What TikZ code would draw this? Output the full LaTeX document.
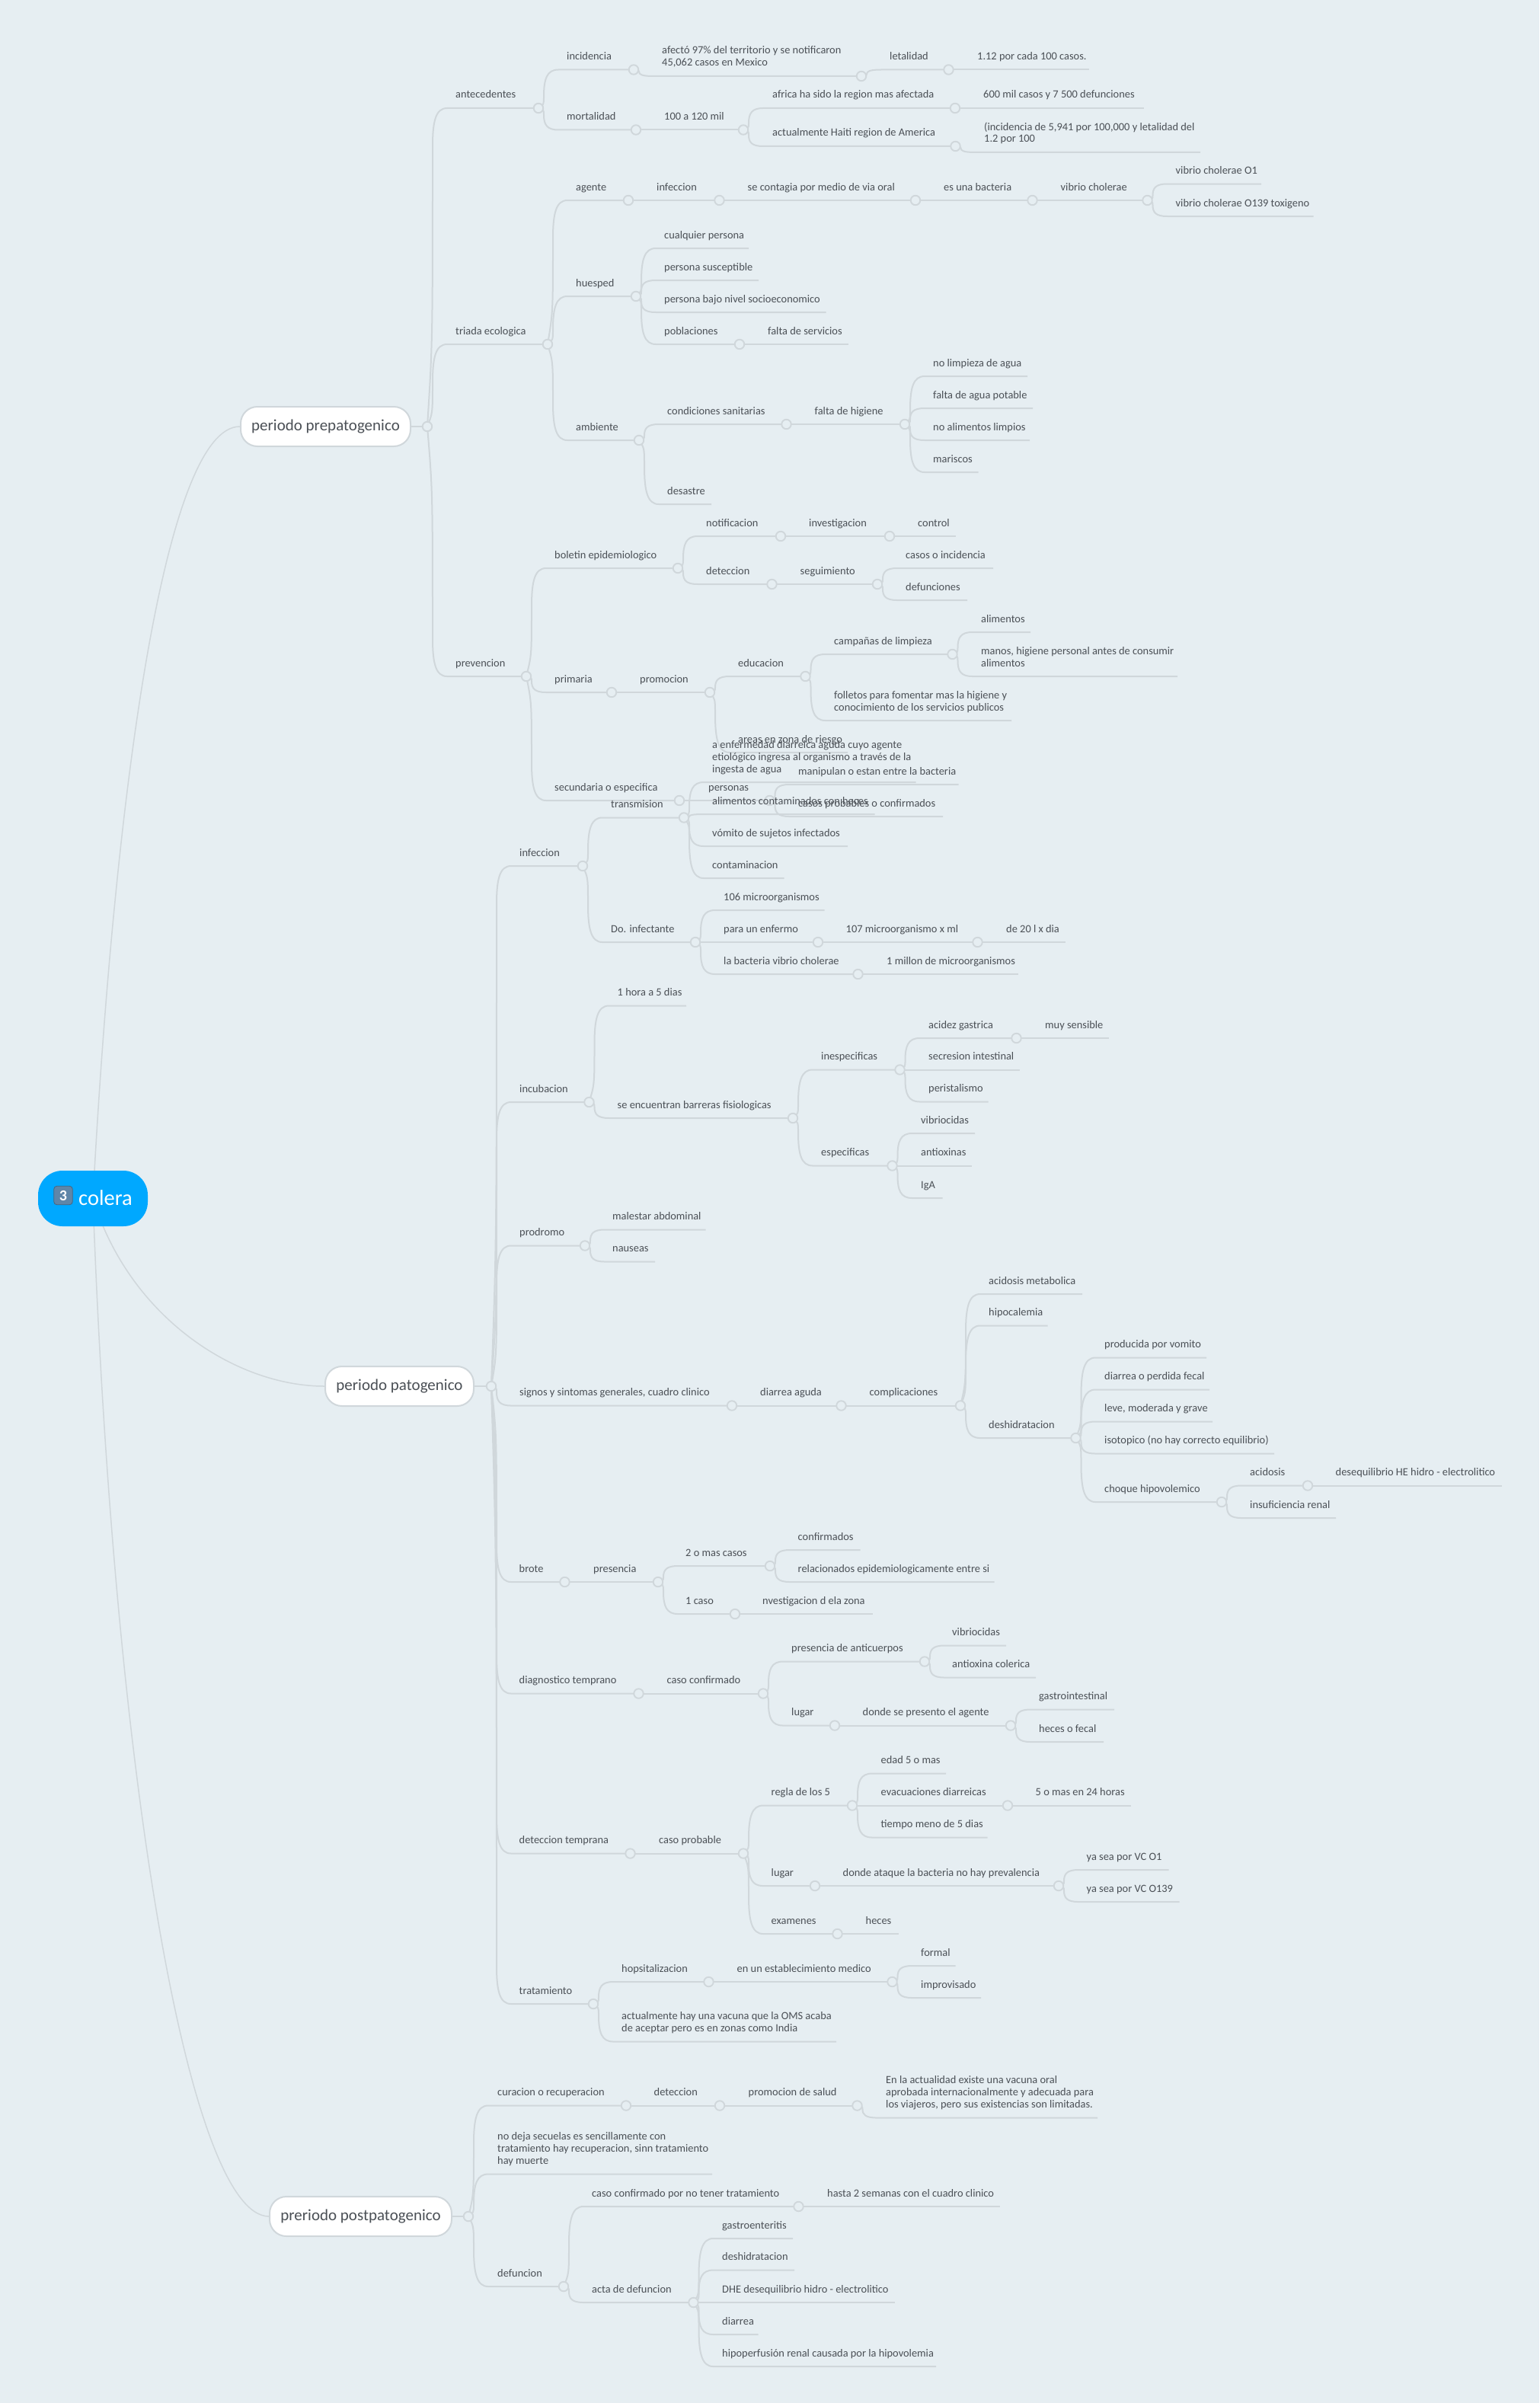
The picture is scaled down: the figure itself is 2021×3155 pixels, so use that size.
\documentclass[tikz,border=0pt]{standalone}
\usepackage{fontspec}
\setmainfont{Carlito}
\usetikzlibrary{calc, backgrounds}
\definecolor{pagebg}{HTML}{E6EEF2}
\definecolor{linkgrey}{HTML}{D0D7DB}
\definecolor{inkgrey}{HTML}{4B5056}
\definecolor{rootblue}{HTML}{00A8FF}
\definecolor{capblue}{HTML}{5F86A8}
\tikzset{
  lbl/.style={anchor=south west, inner sep=0pt, yshift=8pt, align=left, text=inkgrey,
    font=\fontsize{14.4}{16}\selectfont, execute at end node=\strut},
  knob/.style={circle, draw=linkgrey, fill=pagebg, line width=1.9pt, minimum size=12.5pt, inner sep=0pt},
  link/.style={draw=linkgrey, line width=2pt},
  bough/.style={draw=linkgrey, line width=1.5pt},
  twig/.style={link, to path={let \p1=(\tikztostart), \p2=(\tikztotarget),
    \n1={sign(\y2-\y1)*min(0.7*abs(\y2-\y1),50)} in
    (\p1) .. controls ({\x1+7pt},{\y1+0.3*(\y2-(\n1)-\y1)}) .. ({\x1+7pt},{\y2-(\n1)})
    .. controls ({\x1+7pt},{\y2-0.35*(\n1)}) and ({\x1+11pt},\y2) .. ({\x1+26pt},\y2) -- (\p2)}},
  period/.style={draw=linkgrey, fill=white, line width=2pt, rounded corners=22pt, inner sep=0pt,
    minimum height=52pt, text=inkgrey, font=\fontsize{21}{26}\selectfont},
  rootbox/.style={fill=rootblue, rounded corners=32pt, minimum width=144pt, minimum height=73pt, inner sep=0pt},
  roottext/.style={text=white, inner sep=0pt, font=\fontsize{28.5}{34}\selectfont},
  keycap/.style={fill=capblue, draw=capblue!75!black, line width=0.8pt, rounded corners=4pt, minimum size=24.5pt, inner sep=0pt,
    text=white, font=\bfseries\fontsize{20}{22}\selectfont},
}
\begin{document}
\begin{tikzpicture}[x=1pt, y=-1pt]
\useasboundingbox (0,0) rectangle (2021,3155);

% root and the three periods
\node[rootbox] (root) at (122,1573.5) {};
\node[keycap] (cap) at (83,1569.5) {3};
\node[roottext, anchor=west] (rootname) at (103,1573) {colera};
\node[period, minimum width=223pt] (prep) at (427.5,560) {periodo prepatogenico};
\node[knob] (prepK) at (561,560) {};
\node[period, minimum width=195pt] (pato) at (524.5,1820) {periodo patogenico};
\node[knob] (patoK) at (645,1820) {};
\node[period, minimum width=239pt] (post) at (473.5,2910) {preriodo postpatogenico};
\node[knob] (postK) at (615,2910) {};

% antecedentes
\node[lbl] (antec) at (598,142) {antecedentes};
\node[knob] (antecK) at (707,142) {};
\node[lbl] (incid) at (744,91.5) {incidencia};
\node[knob] (incidK) at (832,91.5) {};
\node[lbl] (afecto) at (869,100) {afectó 97\% del territorio y se notificaron\\45,062 casos en Mexico};
\node[knob] (afectoK) at (1131,100) {};
\node[lbl] (letal) at (1168,91.5) {letalidad};
\node[knob] (letalK) at (1245.5,91.5) {};
\node[lbl] (porcada) at (1283,91.5) {1.12 por cada 100 casos.};
\coordinate (porcadaE) at (1430,91.5);
\node[lbl] (mortal) at (744,170.5) {mortalidad};
\node[knob] (mortalK) at (835,170.5) {};
\node[lbl] (cienmil) at (872,170.5) {100 a 120 mil};
\node[knob] (cienmilK) at (976,170.5) {};
\node[lbl] (africa) at (1014,142) {africa ha sido la region mas afectada};
\node[knob] (africaK) at (1254,142) {};
\node[lbl] (seiscien) at (1291,142) {600 mil casos y 7 500 defunciones};
\coordinate (seiscienE) at (1502,142);
\node[lbl] (haiti) at (1014,192) {actualmente Haiti region de America};
\node[knob] (haitiK) at (1254.5,192) {};
\node[lbl] (incidhaiti) at (1292,200) {(incidencia de 5,941 por 100,000 y letalidad del\\1.2 por 100};
\coordinate (incidhaitiE) at (1576,200);

% triada ecologica
\node[lbl] (triada) at (598,452) {triada ecologica};
\node[knob] (triadaK) at (719,452) {};
\node[lbl] (agente) at (756,263) {agente};
\node[knob] (agenteK) at (825,263) {};
\node[lbl] (infec) at (862,263) {infeccion};
\node[knob] (infecK) at (944.5,263) {};
\node[lbl] (contagia) at (981.5,263) {se contagia por medio de via oral};
\node[knob] (contagiaK) at (1202,263) {};
\node[lbl] (bacteria) at (1239,263) {es una bacteria};
\node[knob] (bacteriaK) at (1355.5,263) {};
\node[lbl] (vibrio) at (1392.5,263) {vibrio cholerae};
\node[knob] (vibrioK) at (1506.5,263) {};
\node[lbl] (vibrioA) at (1543.5,241.5) {vibrio cholerae O1};
\coordinate (vibrioAE) at (1656,241.5);
\node[lbl] (vibrioB) at (1543.5,284) {vibrio cholerae O139 toxigeno};
\coordinate (vibrioBE) at (1724.5,284);
\node[lbl] (huesped) at (756,389) {huesped};
\node[knob] (huespedK) at (835,389) {};
\node[lbl] (cualq) at (872,326) {cualquier persona};
\coordinate (cualqE) at (983,326);
\node[lbl] (suscep) at (872,368) {persona susceptible};
\coordinate (suscepE) at (996,368);
\node[lbl] (bajonivel) at (872,410) {persona bajo nivel socioeconomico};
\coordinate (bajonivelE) at (1084.5,410);
\node[lbl] (poblac) at (872,452) {poblaciones};
\node[knob] (poblacK) at (971,452) {};
\node[lbl] (faltaserv) at (1008,452) {falta de servicios};
\coordinate (faltaservE) at (1114,452);
\node[lbl] (ambiente) at (756,578) {ambiente};
\node[knob] (ambienteK) at (839,578) {};
\node[lbl] (condic) at (876,557) {condiciones sanitarias};
\node[knob] (condicK) at (1032.5,557) {};
\node[lbl] (higiene) at (1069.5,557) {falta de higiene};
\node[knob] (higieneK) at (1188,557) {};
\node[lbl] (limpieza) at (1225,494) {no limpieza de agua};
\coordinate (limpiezaE) at (1349,494);
\node[lbl] (potable) at (1225,536) {falta de agua potable};
\coordinate (potableE) at (1356,536);
\node[lbl] (limpios) at (1225,578) {no alimentos limpios};
\coordinate (limpiosE) at (1352,578);
\node[lbl] (mariscos) at (1225,620) {mariscos};
\coordinate (mariscosE) at (1284.5,620);
\node[lbl] (desastre) at (876,662) {desastre};
\coordinate (desastreE) at (934,662);

% prevencion
\node[lbl] (prev) at (598,888) {prevencion};
\node[knob] (prevK) at (691,888) {};
\node[lbl] (boletin) at (728,746) {boletin epidemiologico};
\node[knob] (boletinK) at (890,746) {};
\node[lbl] (notif) at (927,704) {notificacion};
\node[knob] (notifK) at (1025,704) {};
\node[lbl] (investig) at (1062,704) {investigacion};
\node[knob] (investigK) at (1168,704) {};
\node[lbl] (control) at (1205,704) {control};
\coordinate (controlE) at (1255,704);
\node[lbl] (detec) at (927,767) {deteccion};
\node[knob] (detecK) at (1013.5,767) {};
\node[lbl] (seguim) at (1050.5,767) {seguimiento};
\node[knob] (seguimK) at (1152,767) {};
\node[lbl] (casosinc) at (1189,746) {casos o incidencia};
\coordinate (casosincE) at (1304,746);
\node[lbl] (defunc) at (1189,788) {defunciones};
\coordinate (defuncE) at (1270,788);
\node[lbl] (primaria) at (728,909) {primaria};
\node[knob] (primariaK) at (803,909) {};
\node[lbl] (promoc) at (840,909) {promocion};
\node[knob] (promocK) at (932,909) {};
\node[lbl] (educ) at (969,888) {educacion};
\node[knob] (educK) at (1057.5,888) {};
\node[lbl] (campanas) at (1095,859) {campañas de limpieza};
\node[knob] (campanasK) at (1250.5,859) {};
\node[lbl] (aliment) at (1288,830) {alimentos};
\coordinate (alimentE) at (1353,830);
\node[lbl] (manos) at (1288,888) {manos, higiene personal antes de consumir\\alimentos};
\coordinate (manosE) at (1546,888);
\node[lbl] (folletos) at (1095,946) {folletos para fomentar mas la higiene y\\conocimiento de los servicios publicos};
\coordinate (folletosE) at (1328,946);
\node[lbl] (areas) at (969,988) {areas en zona de riesgo};
\coordinate (areasE) at (1113,988);
\node[lbl] (secund) at (728,1051) {secundaria o especifica};
\node[knob] (secundK) at (892,1051) {};
\node[lbl] (personas) at (930,1051) {personas};
\node[knob] (personasK) at (1010.5,1051) {};
\node[lbl] (manipulan) at (1048,1030) {manipulan o estan entre la bacteria};
\coordinate (manipulanE) at (1258.5,1030);
\node[lbl] (probables) at (1048,1072) {casos probables o confirmados};
\coordinate (probablesE) at (1238,1072);

% infeccion
\node[lbl] (infeccion) at (682,1137) {infeccion};
\node[knob] (infeccionK) at (765,1137) {};
\node[lbl] (transm) at (802,1073.5) {transmision};
\node[knob] (transmK) at (898,1073.5) {};
\node[lbl] (enfermedad) at (935,1027) {a enfermedad diarreica aguda cuyo agente\\etiológico ingresa al organismo a través de la\\ingesta de agua};
\coordinate (enfermedadE) at (1202.5,1027);
\node[lbl] (heces) at (935,1069) {alimentos contaminados con heces};
\coordinate (hecesE) at (1148.5,1069);
\node[lbl] (vomito) at (935,1111) {vómito de sujetos infectados};
\coordinate (vomitoE) at (1113,1111);
\node[lbl] (contam) at (935,1153) {contaminacion};
\coordinate (contamE) at (1029.5,1153);
\node[lbl] (dosis) at (802,1237) {Do. infectante};
\node[knob] (dosisK) at (913,1237) {};
\node[lbl] (micro) at (950,1195) {106 microorganismos};
\coordinate (microE) at (1082.5,1195);
\node[lbl] (paraun) at (950,1237) {para un enfermo};
\node[knob] (paraunK) at (1074,1237) {};
\node[lbl] (microml) at (1110.5,1237) {107 microorganismo x ml};
\node[knob] (micromlK) at (1283.5,1237) {};
\node[lbl] (veinte) at (1321,1237) {de 20 l x dia};
\coordinate (veinteE) at (1398.5,1237);
\node[lbl] (labact) at (950,1279) {la bacteria vibrio cholerae};
\node[knob] (labactK) at (1126.5,1279) {};
\node[lbl] (millon) at (1164,1279) {1 millon de microorganismos};
\coordinate (millonE) at (1336.5,1279);

% incubacion
\node[lbl] (incub) at (682,1447) {incubacion};
\node[knob] (incubK) at (773.5,1447) {};
\node[lbl] (unahora) at (810.5,1320.5) {1 hora a 5 dias};
\coordinate (unahoraE) at (901,1320.5);
\node[lbl] (barreras) at (810.5,1468) {se encuentran barreras fisiologicas};
\node[knob] (barrerasK) at (1041,1468) {};
\node[lbl] (inesp) at (1078,1404.5) {inespecificas};
\node[knob] (inespK) at (1181.5,1404.5) {};
\node[lbl] (acidez) at (1219,1363) {acidez gastrica};
\node[knob] (acidezK) at (1334.5,1363) {};
\node[lbl] (sensible) at (1372,1363) {muy sensible};
\coordinate (sensibleE) at (1456,1363);
\node[lbl] (secres) at (1219,1404.5) {secresion intestinal};
\coordinate (secresE) at (1339,1404.5);
\node[lbl] (perist) at (1219,1446.5) {peristalismo};
\coordinate (peristE) at (1297.5,1446.5);
\node[lbl] (espec) at (1078,1530.5) {especificas};
\node[knob] (especK) at (1171.5,1530.5) {};
\node[lbl] (vibrioc) at (1209,1488) {vibriocidas};
\coordinate (vibriocE) at (1280,1488);
\node[lbl] (antiox) at (1209,1530.5) {antioxinas};
\coordinate (antioxE) at (1276,1530.5);
\node[lbl] (iga) at (1209,1573) {IgA};
\coordinate (igaE) at (1237.5,1573);

% prodromo
\node[lbl] (prodr) at (682,1635.5) {prodromo};
\node[knob] (prodrK) at (768,1635.5) {};
\node[lbl] (malestar) at (804,1614.5) {malestar abdominal};
\coordinate (malestarE) at (926.5,1614.5);
\node[lbl] (nauseas) at (804,1656.5) {nauseas};
\coordinate (nauseasE) at (860,1656.5);

% signos y sintomas
\node[lbl] (signos) at (682,1845.5) {signos y sintomas generales, cuadro clinico};
\node[knob] (signosK) at (961,1845.5) {};
\node[lbl] (diarrea) at (998,1845.5) {diarrea aguda};
\node[knob] (diarreaK) at (1104.5,1845.5) {};
\node[lbl] (complic) at (1141.5,1845.5) {complicaciones};
\node[knob] (complicK) at (1261,1845.5) {};
\node[lbl] (acidmet) at (1298,1699) {acidosis metabolica};
\coordinate (acidmetE) at (1421,1699);
\node[lbl] (hipocal) at (1298,1740.5) {hipocalemia};
\coordinate (hipocalE) at (1375.5,1740.5);
\node[lbl] (deshid) at (1298,1888) {deshidratacion};
\node[knob] (deshidK) at (1412.5,1888) {};
\node[lbl] (producida) at (1450,1782.5) {producida por vomito};
\coordinate (producidaE) at (1584,1782.5);
\node[lbl] (perdida) at (1450,1824.5) {diarrea o perdida fecal};
\coordinate (perdidaE) at (1588,1824.5);
\node[lbl] (leve) at (1450,1866.5) {leve, moderada y grave};
\coordinate (leveE) at (1592,1866.5);
\node[lbl] (isotop) at (1450,1908.5) {isotopico (no hay correcto equilibrio)};
\coordinate (isotopE) at (1673,1908.5);
\node[lbl] (choque) at (1450,1972) {choque hipovolemico};
\node[knob] (choqueK) at (1604,1972) {};
\node[lbl] (acidosis) at (1641,1950.5) {acidosis};
\node[knob] (acidosisK) at (1717,1950.5) {};
\node[lbl] (deseq) at (1753.5,1950.5) {desequilibrio HE hidro - electrolitico};
\coordinate (deseqE) at (1971.5,1950.5);
\node[lbl] (insuf) at (1641,1993) {insuficiencia renal};
\coordinate (insufE) at (1754,1993);

% brote
\node[lbl] (brote) at (681.5,2077) {brote};
\node[knob] (broteK) at (741.5,2077) {};
\node[lbl] (presenc) at (779,2077) {presencia};
\node[knob] (presencK) at (864,2077) {};
\node[lbl] (dosomas) at (900,2056) {2 o mas casos};
\node[knob] (dosomasK) at (1011,2056) {};
\node[lbl] (confirm) at (1047.5,2035) {confirmados};
\coordinate (confirmE) at (1129.5,2035);
\node[lbl] (relac) at (1047.5,2077) {relacionados epidemiologicamente entre si};
\coordinate (relacE) at (1305.5,2077);
\node[lbl] (uncaso) at (900,2119) {1 caso};
\node[knob] (uncasoK) at (965,2119) {};
\node[lbl] (nvestig) at (1001,2119) {nvestigacion d ela zona};
\coordinate (nvestigE) at (1146,2119);

% diagnostico temprano
\node[lbl] (diagn) at (681.5,2223.5) {diagnostico temprano};
\node[knob] (diagnK) at (838.5,2223.5) {};
\node[lbl] (casoconf) at (875.5,2223.5) {caso confirmado};
\node[knob] (casoconfK) at (1002,2223.5) {};
\node[lbl] (anticuer) at (1039,2181.5) {presencia de anticuerpos};
\node[knob] (anticuerK) at (1214,2181.5) {};
\node[lbl] (vibriocB) at (1250,2160.5) {vibriocidas};
\coordinate (vibriocBE) at (1321,2160.5);
\node[lbl] (antitox) at (1250,2202.5) {antioxina colerica};
\coordinate (antitoxE) at (1360,2202.5);
\node[lbl] (lugarA) at (1039,2265.5) {lugar};
\node[knob] (lugarAK) at (1096,2265.5) {};
\node[lbl] (dondepres) at (1132.5,2265.5) {donde se presento el agente};
\node[knob] (dondepresK) at (1327,2265.5) {};
\node[lbl] (gastro) at (1364,2244.5) {gastrointestinal};
\coordinate (gastroE) at (1463,2244.5);
\node[lbl] (hecesfec) at (1364,2287) {heces o fecal};
\coordinate (hecesfecE) at (1449,2287);

% deteccion temprana
\node[lbl] (dettemp) at (681.5,2433.5) {deteccion temprana};
\node[knob] (dettempK) at (827.5,2433.5) {};
\node[lbl] (casoprob) at (865,2433.5) {caso probable};
\node[knob] (casoprobK) at (976,2433.5) {};
\node[lbl] (regla) at (1012.5,2370.5) {regla de los 5};
\node[knob] (reglaK) at (1119,2370.5) {};
\node[lbl] (edad) at (1156.5,2328.5) {edad 5 o mas};
\coordinate (edadE) at (1242,2328.5);
\node[lbl] (evac) at (1156.5,2370.5) {evacuaciones diarreicas};
\node[knob] (evacK) at (1323,2370.5) {};
\node[lbl] (cincomas) at (1359.5,2370.5) {5 o mas en 24 horas};
\coordinate (cincomasE) at (1484.5,2370.5);
\node[lbl] (tiempo) at (1156.5,2412.5) {tiempo meno de 5 dias};
\coordinate (tiempoE) at (1296.5,2412.5);
\node[lbl] (lugarB) at (1012.5,2476) {lugar};
\node[knob] (lugarBK) at (1070,2476) {};
\node[lbl] (dondeat) at (1106.5,2476) {donde ataque la bacteria no hay prevalencia};
\node[knob] (dondeatK) at (1390,2476) {};
\node[lbl] (vcuno) at (1426.5,2455) {ya sea por VC O1};
\coordinate (vcunoE) at (1534.5,2455);
\node[lbl] (vcdos) at (1426.5,2497) {ya sea por VC O139};
\coordinate (vcdosE) at (1548.5,2497);
\node[lbl] (examen) at (1012.5,2539) {examenes};
\node[knob] (examenK) at (1099.5,2539) {};
\node[lbl] (hecesB) at (1136.5,2539) {heces};
\coordinate (hecesBE) at (1179.5,2539);

% tratamiento
\node[lbl] (tratam) at (681.5,2631) {tratamiento};
\node[knob] (tratamK) at (779,2631) {};
\node[lbl] (hospit) at (816,2602) {hopsitalizacion};
\node[knob] (hospitK) at (930.5,2602) {};
\node[lbl] (establec) at (967.5,2602) {en un establecimiento medico};
\node[knob] (establecK) at (1171.5,2602) {};
\node[lbl] (formal) at (1209,2581) {formal};
\coordinate (formalE) at (1254.5,2581);
\node[lbl] (improv) at (1209,2623) {improvisado};
\coordinate (improvE) at (1288,2623);
\node[lbl] (vacuna) at (816,2680.5) {actualmente hay una vacuna que la OMS acaba\\de aceptar pero es en zonas como India};
\coordinate (vacunaE) at (1098,2680.5);

% preriodo postpatogenico
\node[lbl] (curacion) at (653,2764.5) {curacion o recuperacion};
\node[knob] (curacionK) at (822,2764.5) {};
\node[lbl] (detecB) at (858.5,2764.5) {deteccion};
\node[knob] (detecBK) at (945,2764.5) {};
\node[lbl] (promsal) at (982.5,2764.5) {promocion de salud};
\node[knob] (promsalK) at (1125.5,2764.5) {};
\node[lbl] (actual) at (1163,2780.5) {En la actualidad existe una vacuna oral\\aprobada internacionalmente y adecuada para\\los viajeros, pero sus existencias son limitadas.};
\coordinate (actualE) at (1441,2780.5);
\node[lbl] (secuelas) at (653,2854.5) {no deja secuelas es sencillamente con\\tratamiento hay recuperacion, sinn tratamiento\\hay muerte};
\coordinate (secuelasE) at (935,2854.5);
\node[lbl] (defuncion) at (653,3002) {defuncion};
\node[knob] (defuncionK) at (740,3002) {};
\node[lbl] (notener) at (777,2897) {caso confirmado por no tener tratamiento};
\node[knob] (notenerK) at (1048.5,2897) {};
\node[lbl] (semanas) at (1086,2897) {hasta 2 semanas con el cuadro clinico};
\coordinate (semanasE) at (1312.5,2897);
\node[lbl] (acta) at (777,3023) {acta de defuncion};
\node[knob] (actaK) at (910.5,3023) {};
\node[lbl] (gastroent) at (948,2939) {gastroenteritis};
\coordinate (gastroentE) at (1041,2939);
\node[lbl] (deshidB) at (948,2980.5) {deshidratacion};
\coordinate (deshidBE) at (1043,2980.5);
\node[lbl] (dhe) at (948,3023) {DHE desequilibrio hidro - electrolitico};
\coordinate (dheE) at (1174.5,3023);
\node[lbl] (diarreaB) at (948,3065) {diarrea};
\coordinate (diarreaBE) at (995.5,3065);
\node[lbl] (hipoperf) at (948,3107) {hipoperfusión renal causada por la hipovolemia};
\coordinate (hipoperfE) at (1229,3107);

\begin{scope}[on background layer]
\fill[pagebg] (0,0) rectangle (2021,3155);

% root to periods
\draw[bough] (root.center) .. controls (150,1050) and (215,560) .. (prep.west);
\draw[bough] (root.center) .. controls (170,1730) and (310,1820) .. (pato.west);
\draw[bough] (root.center) .. controls (150,2350) and (250,2909) .. (post.west);
\draw[link] (prep) -- (prepK);
\draw[link] (pato) -- (patoK);
\draw[link] (post) -- (postK);

% periodo prepatogenico
\draw[twig] (prepK) to (antecK);
\draw[twig] (antecK) to (incidK);
\draw[twig] (incidK) to (afectoK);
\draw[twig] (afectoK) to (letalK);
\draw[twig] (letalK) to (porcadaE);
\draw[twig] (antecK) to (mortalK);
\draw[twig] (mortalK) to (cienmilK);
\draw[twig] (cienmilK) to (africaK);
\draw[twig] (africaK) to (seiscienE);
\draw[twig] (cienmilK) to (haitiK);
\draw[twig] (haitiK) to (incidhaitiE);
\draw[twig] (prepK) to (triadaK);
\draw[twig] (triadaK) to (agenteK);
\draw[twig] (agenteK) to (infecK);
\draw[twig] (infecK) to (contagiaK);
\draw[twig] (contagiaK) to (bacteriaK);
\draw[twig] (bacteriaK) to (vibrioK);
\draw[twig] (vibrioK) to (vibrioAE);
\draw[twig] (vibrioK) to (vibrioBE);
\draw[twig] (triadaK) to (huespedK);
\draw[twig] (huespedK) to (cualqE);
\draw[twig] (huespedK) to (suscepE);
\draw[twig] (huespedK) to (bajonivelE);
\draw[twig] (huespedK) to (poblacK);
\draw[twig] (poblacK) to (faltaservE);
\draw[twig] (triadaK) to (ambienteK);
\draw[twig] (ambienteK) to (condicK);
\draw[twig] (condicK) to (higieneK);
\draw[twig] (higieneK) to (limpiezaE);
\draw[twig] (higieneK) to (potableE);
\draw[twig] (higieneK) to (limpiosE);
\draw[twig] (higieneK) to (mariscosE);
\draw[twig] (ambienteK) to (desastreE);
\draw[twig] (prepK) to (prevK);
\draw[twig] (prevK) to (boletinK);
\draw[twig] (boletinK) to (notifK);
\draw[twig] (notifK) to (investigK);
\draw[twig] (investigK) to (controlE);
\draw[twig] (boletinK) to (detecK);
\draw[twig] (detecK) to (seguimK);
\draw[twig] (seguimK) to (casosincE);
\draw[twig] (seguimK) to (defuncE);
\draw[twig] (prevK) to (primariaK);
\draw[twig] (primariaK) to (promocK);
\draw[twig] (promocK) to (educK);
\draw[twig] (educK) to (campanasK);
\draw[twig] (campanasK) to (alimentE);
\draw[twig] (campanasK) to (manosE);
\draw[twig] (educK) to (folletosE);
\draw[twig] (promocK) to (areasE);
\draw[twig] (prevK) to (secundK);
\draw[twig] (secundK) to (personasK);
\draw[twig] (personasK) to (manipulanE);
\draw[twig] (personasK) to (probablesE);

% periodo patogenico
\draw[twig] (patoK) to (infeccionK);
\draw[twig] (infeccionK) to (transmK);
\draw[twig] (transmK) to (enfermedadE);
\draw[twig] (transmK) to (hecesE);
\draw[twig] (transmK) to (vomitoE);
\draw[twig] (transmK) to (contamE);
\draw[twig] (infeccionK) to (dosisK);
\draw[twig] (dosisK) to (microE);
\draw[twig] (dosisK) to (paraunK);
\draw[twig] (paraunK) to (micromlK);
\draw[twig] (micromlK) to (veinteE);
\draw[twig] (dosisK) to (labactK);
\draw[twig] (labactK) to (millonE);
\draw[twig] (patoK) to (incubK);
\draw[twig] (incubK) to (unahoraE);
\draw[twig] (incubK) to (barrerasK);
\draw[twig] (barrerasK) to (inespK);
\draw[twig] (inespK) to (acidezK);
\draw[twig] (acidezK) to (sensibleE);
\draw[twig] (inespK) to (secresE);
\draw[twig] (inespK) to (peristE);
\draw[twig] (barrerasK) to (especK);
\draw[twig] (especK) to (vibriocE);
\draw[twig] (especK) to (antioxE);
\draw[twig] (especK) to (igaE);
\draw[twig] (patoK) to (prodrK);
\draw[twig] (prodrK) to (malestarE);
\draw[twig] (prodrK) to (nauseasE);
\draw[twig] (patoK) to (signosK);
\draw[twig] (signosK) to (diarreaK);
\draw[twig] (diarreaK) to (complicK);
\draw[twig] (complicK) to (acidmetE);
\draw[twig] (complicK) to (hipocalE);
\draw[twig] (complicK) to (deshidK);
\draw[twig] (deshidK) to (producidaE);
\draw[twig] (deshidK) to (perdidaE);
\draw[twig] (deshidK) to (leveE);
\draw[twig] (deshidK) to (isotopE);
\draw[twig] (deshidK) to (choqueK);
\draw[twig] (choqueK) to (acidosisK);
\draw[twig] (acidosisK) to (deseqE);
\draw[twig] (choqueK) to (insufE);
\draw[twig] (patoK) to (broteK);
\draw[twig] (broteK) to (presencK);
\draw[twig] (presencK) to (dosomasK);
\draw[twig] (dosomasK) to (confirmE);
\draw[twig] (dosomasK) to (relacE);
\draw[twig] (presencK) to (uncasoK);
\draw[twig] (uncasoK) to (nvestigE);
\draw[twig] (patoK) to (diagnK);
\draw[twig] (diagnK) to (casoconfK);
\draw[twig] (casoconfK) to (anticuerK);
\draw[twig] (anticuerK) to (vibriocBE);
\draw[twig] (anticuerK) to (antitoxE);
\draw[twig] (casoconfK) to (lugarAK);
\draw[twig] (lugarAK) to (dondepresK);
\draw[twig] (dondepresK) to (gastroE);
\draw[twig] (dondepresK) to (hecesfecE);
\draw[twig] (patoK) to (dettempK);
\draw[twig] (dettempK) to (casoprobK);
\draw[twig] (casoprobK) to (reglaK);
\draw[twig] (reglaK) to (edadE);
\draw[twig] (reglaK) to (evacK);
\draw[twig] (evacK) to (cincomasE);
\draw[twig] (reglaK) to (tiempoE);
\draw[twig] (casoprobK) to (lugarBK);
\draw[twig] (lugarBK) to (dondeatK);
\draw[twig] (dondeatK) to (vcunoE);
\draw[twig] (dondeatK) to (vcdosE);
\draw[twig] (casoprobK) to (examenK);
\draw[twig] (examenK) to (hecesBE);
\draw[twig] (patoK) to (tratamK);
\draw[twig] (tratamK) to (hospitK);
\draw[twig] (hospitK) to (establecK);
\draw[twig] (establecK) to (formalE);
\draw[twig] (establecK) to (improvE);
\draw[twig] (tratamK) to (vacunaE);

% preriodo postpatogenico
\draw[twig] (postK) to (curacionK);
\draw[twig] (curacionK) to (detecBK);
\draw[twig] (detecBK) to (promsalK);
\draw[twig] (promsalK) to (actualE);
\draw[twig] (postK) to (secuelasE);
\draw[twig] (postK) to (defuncionK);
\draw[twig] (defuncionK) to (notenerK);
\draw[twig] (notenerK) to (semanasE);
\draw[twig] (defuncionK) to (actaK);
\draw[twig] (actaK) to (gastroentE);
\draw[twig] (actaK) to (deshidBE);
\draw[twig] (actaK) to (dheE);
\draw[twig] (actaK) to (diarreaBE);
\draw[twig] (actaK) to (hipoperfE);
\end{scope}
\end{tikzpicture}
\end{document}
